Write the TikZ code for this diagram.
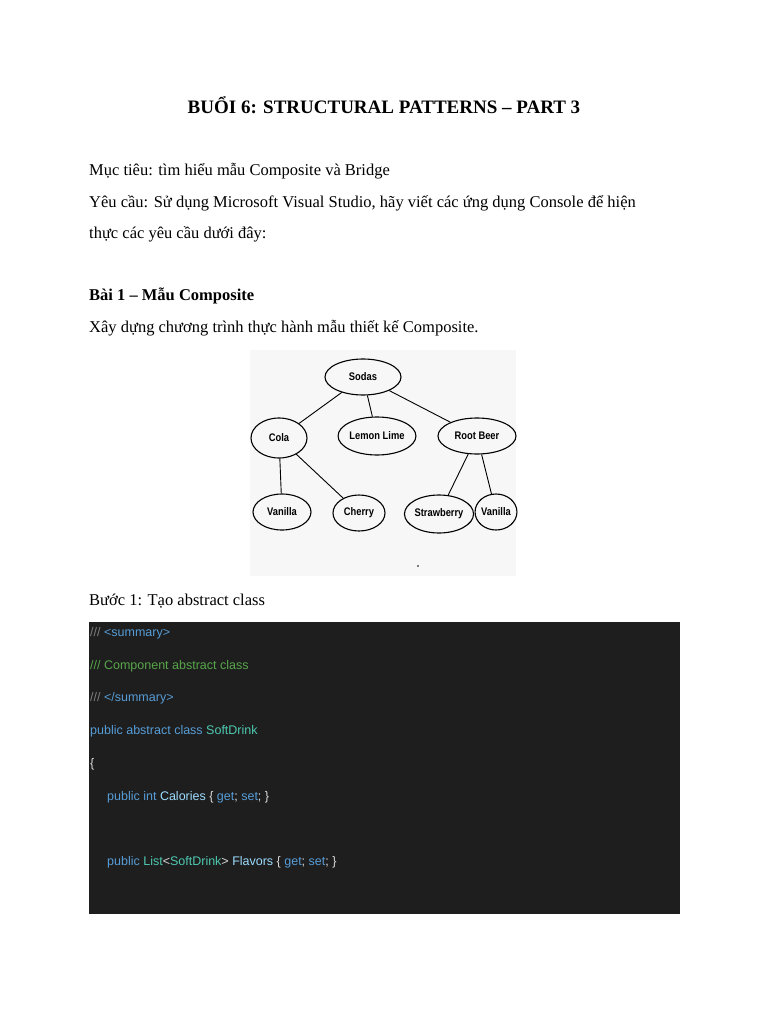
\documentclass[tikz,border=0pt]{standalone}
\usepackage{fontspec}
\setmainfont{Liberation Serif}
\newfontfamily\codefont{Liberation Sans}
\newfontfamily\treefont{Liberation Sans}[FakeStretch=0.85]
\usetikzlibrary{shapes.geometric}
\definecolor{codebg}{HTML}{1E1E1E}
\definecolor{kw}{HTML}{569CD6}
\definecolor{ty}{HTML}{4EC9B0}
\definecolor{cm}{HTML}{57A64A}
\definecolor{gr}{HTML}{808080}
\definecolor{idn}{HTML}{9CDCFE}
\definecolor{tx}{HTML}{DCDCDC}
\tikzset{
 body/.style={anchor=west,inner sep=0pt,font=\fontsize{16.5}{18}\selectfont},
 code/.style={anchor=west,inner sep=0pt,font=\codefont\fontsize{12.5}{14}\selectfont,text=tx},
 tnode/.style={ellipse,draw,line width=1.1pt,inner sep=0pt,font=\treefont\fontsize{11}{12}\selectfont\bfseries},
 edge/.style={line width=0.9pt}
}
\begin{document}
\begin{tikzpicture}[x=1pt,y=-1pt]
\useasboundingbox (0,0) rectangle (768,1024);
\fill[white] (0,0) rectangle (768,1024);
\node[inner sep=0pt,font=\fontsize{19}{22}\selectfont\bfseries] (title) at (384,105) {BUỔI 6: STRUCTURAL PATTERNS – PART 3};
\node[body] (l1) at (89,171) {Mục tiêu: tìm hiểu mẫu Composite và Bridge};
\node[body] (l2) at (89,203) {Yêu cầu: Sử dụng Microsoft Visual Studio, hãy viết các ứng dụng Console để hiện};
\node[body] (l3) at (89,234) {thực các yêu cầu dưới đây:};
\node[body,font=\fontsize{16.5}{18}\selectfont\bfseries] (l4) at (89,296) {Bài 1 – Mẫu Composite};
\node[body] (l5) at (89,328) {Xây dựng chương trình thực hành mẫu thiết kế Composite.};
% tree
\fill[gray!6] (250,350) rectangle (516,576);
\node[tnode,minimum width=76pt,minimum height=36pt] (sodas) at (363,377) {Sodas};
\node[tnode,minimum width=56pt,minimum height=40pt] (cola) at (279,438) {Cola};
\node[tnode,minimum width=64pt,minimum height=38pt] (lemon) at (377,436) {Lemon Lime};
\node[tnode,minimum width=78pt,minimum height=36pt] (root) at (477,436) {Root Beer};
\node[tnode,minimum width=58pt,minimum height=36pt] (van1) at (282,512) {Vanilla};
\node[tnode,minimum width=52pt,minimum height=36pt] (cherry) at (359,513) {Cherry};
\node[tnode,minimum width=66pt,minimum height=38pt] (straw) at (439,514) {Strawberry};
\node[tnode,minimum width=38pt,minimum height=36pt] (van2) at (496,512) {Vanilla};
\draw[edge] (sodas) -- (cola);
\draw[edge] (sodas) -- (lemon);
\draw[edge] (sodas) -- (root);
\draw[edge] (cola) -- (van1);
\draw[edge] (cola) -- (cherry);
\draw[edge] (root) -- (straw);
\draw[edge] (root) -- (van2);
\fill (418,566) circle (0.9pt);
\node[body] (l6) at (89,601) {Bước 1: Tạo abstract class};
% code
\fill[codebg] (89,622) rectangle (680,914);
\node[code] (c1) at (90,633) {\textcolor{gr}{///} \textcolor{kw}{<summary>}};
\node[code] (c2) at (90,666) {\textcolor{cm}{/// Component abstract class}};
\node[code] (c3) at (90,698) {\textcolor{gr}{///} \textcolor{kw}{</summary>}};
\node[code] (c4) at (90,731) {\textcolor{kw}{public abstract class} \textcolor{ty}{SoftDrink}};
\node[code] (c5) at (90,764) {\{};
\node[code] (c6) at (107,797) {\textcolor{kw}{public int} \textcolor{idn}{Calories} \{ \textcolor{kw}{get}; \textcolor{kw}{set}; \}};
\node[code] (c7) at (107,862) {\textcolor{kw}{public} \textcolor{ty}{List}<\textcolor{ty}{SoftDrink}> \textcolor{idn}{Flavors} \{ \textcolor{kw}{get}; \textcolor{kw}{set}; \}};
\end{tikzpicture}
\end{document}
